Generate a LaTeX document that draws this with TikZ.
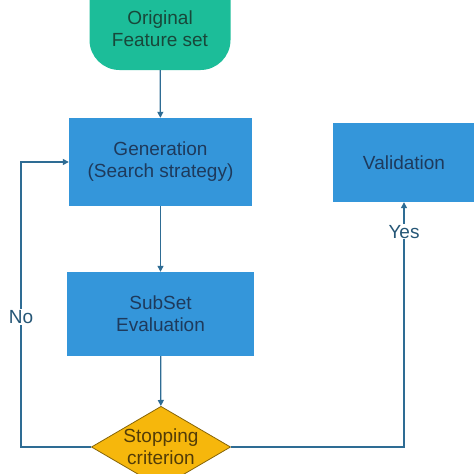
\documentclass[tikz,border=0pt]{standalone}
\usepackage{fontspec}
\setmainfont{Liberation Sans}
\usetikzlibrary{arrows.meta,shapes.geometric}
\definecolor{termgreen}{RGB}{28,189,153}
\definecolor{boxblue}{RGB}{52,150,218}
\definecolor{decyellow}{RGB}{246,183,12}
\definecolor{lineblue}{RGB}{46,108,148}
\definecolor{boxtext}{RGB}{30,58,92}
\definecolor{dectext}{RGB}{82,60,8}
\definecolor{termtext}{RGB}{24,72,58}
\begin{document}
\begin{tikzpicture}[x=1pt,y=-1pt,
  font=\fontsize{19}{22}\selectfont,
  terminal/.style={draw=none, fill=termgreen, text=termtext, rounded corners=30pt,
    minimum width=141pt, minimum height=100pt, align=center},
  process/.style={draw=none, fill=boxblue, text=boxtext, align=center},
  decision/.style={diamond, draw=black!45!decyellow, line width=0.8pt, fill=decyellow,
    text=dectext, align=center, inner sep=0.5pt, aspect=1.71},
  flow/.style={draw=lineblue, line width=1.2pt, -{Triangle[length=6pt,width=6pt]}},
  answer/.style={fill=white, text=lineblue!80!black, inner sep=1pt}]
  \clip (0,0) rectangle (474,474);
  \fill[white] (0,0) rectangle (474,474);
  \node[terminal] (orig) at (160,20) {\rule{0pt}{32pt}Original\\Feature set};
  \node[process, minimum width=183pt, minimum height=88pt] (gen) at (160.5,162) {Generation\\(Search strategy)};
  \node[process, minimum width=187pt, minimum height=84pt] (sub) at (160.5,314) {SubSet\\Evaluation};
  \node[decision] (stop) at (161,447) {Stopping\\criterion};
  \node[process, minimum width=142pt, minimum height=79pt] (val) at (404,162.5) {Validation};
  \coordinate (noturn) at (21,447);
  \draw[flow] (orig) -- (gen);
  \draw[flow] (gen) -- (sub);
  \draw[flow] (sub) -- (stop);
  \draw[flow] (stop.west) -- (noturn) |- node[answer, pos=0.228] {No} (gen.west);
  \draw[flow] (stop.east) -| node[answer, pos=0.94] {Yes} (val.south);
\end{tikzpicture}
\end{document}
